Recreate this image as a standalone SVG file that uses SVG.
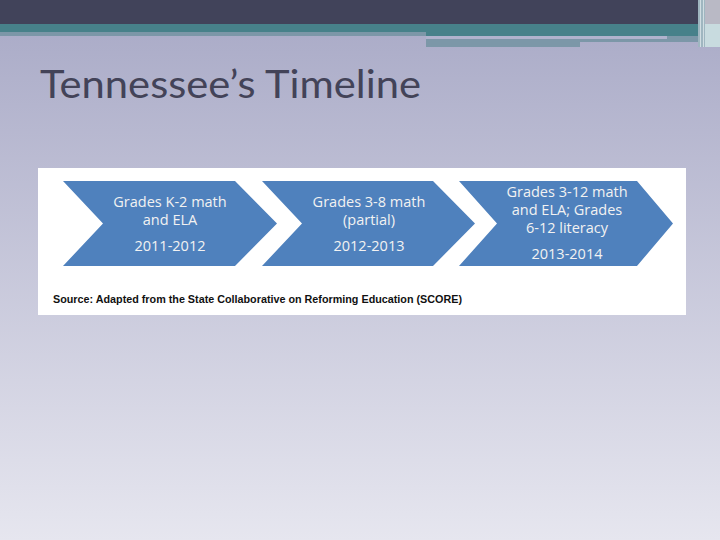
<svg xmlns="http://www.w3.org/2000/svg" width="720" height="540" viewBox="0 0 720 540">
<defs>
<linearGradient id="bg" x1="0" y1="0" x2="0" y2="1">
<stop offset="0" stop-color="#a8a9c6"/>
<stop offset="1" stop-color="#e6e6ef"/>
</linearGradient>
<style>
.chev{fill:#4f81bd}
.lbl{font-family:"Open Sans","Liberation Sans",sans-serif;font-size:14.5px;fill:#f2f2f2;text-anchor:middle}
</style>
</defs>
<rect x="0" y="0" width="720" height="540" fill="url(#bg)"/>
<!-- top decorative bars -->
<rect x="0" y="0" width="720" height="24" fill="#41435a"/>
<rect x="0" y="24" width="720" height="8" fill="#47818a"/>
<rect x="0" y="32" width="426" height="4" fill="#7c97a8"/>
<rect x="426" y="32" width="294" height="4" fill="#47818a"/>
<rect x="426" y="36" width="241" height="3" fill="#b0b3cd"/>
<rect x="667" y="36" width="40" height="6" fill="#7c97a8"/>
<rect x="426" y="39" width="274" height="3" fill="#7c97a8"/>
<rect x="426" y="42" width="154" height="5" fill="#7c97a8"/>
<rect x="698" y="0" width="7" height="47" fill="#9fb6c0"/>
<rect x="700" y="0" width="1" height="47" fill="#d0dde2"/>
<rect x="703" y="0" width="1" height="47" fill="#d0dde2"/>
<rect x="705" y="0" width="15" height="47" fill="#c8dbdf"/>
<rect x="705" y="0" width="15" height="24" fill="#b9b9c5"/>
<text x="40" y="98" font-family="Lato,'Open Sans',sans-serif" font-size="38" fill="#434358" textLength="381" lengthAdjust="spacingAndGlyphs">Tennessee’s Timeline</text>
<rect x="38" y="168" width="648" height="147" fill="#ffffff"/>
<g id="step1">
<polygon class="chev" points="63,181 235,181 277,223.5 235,266 63,266 103,223.5"/>
<text class="lbl" x="170" y="207">Grades K-2 math</text>
<text class="lbl" x="170" y="225">and ELA</text>
<text class="lbl" x="170" y="251">2011-2012</text>
</g>
<g id="step2">
<polygon class="chev" points="262,181 433,181 475,223.5 433,266 262,266 302,223.5"/>
<text class="lbl" x="369" y="207">Grades 3-8 math</text>
<text class="lbl" x="369" y="225">(partial)</text>
<text class="lbl" x="369" y="251">2012-2013</text>
</g>
<g id="step3">
<polygon class="chev" points="459,181 637,181 673,223.5 637,266 459,266 497,223.5"/>
<text class="lbl" x="567" y="197">Grades 3-12 math</text>
<text class="lbl" x="567" y="215">and ELA; Grades</text>
<text class="lbl" x="567" y="233">6-12 literacy</text>
<text class="lbl" x="567" y="259">2013-2014</text>
</g>
<g id="connectors"></g>
<text x="53" y="303" font-family="'Liberation Sans',Arial,sans-serif" font-size="10" font-weight="bold" fill="#111" textLength="409" lengthAdjust="spacingAndGlyphs">Source: Adapted from the State Collaborative on Reforming Education (SCORE)</text>
</svg>
